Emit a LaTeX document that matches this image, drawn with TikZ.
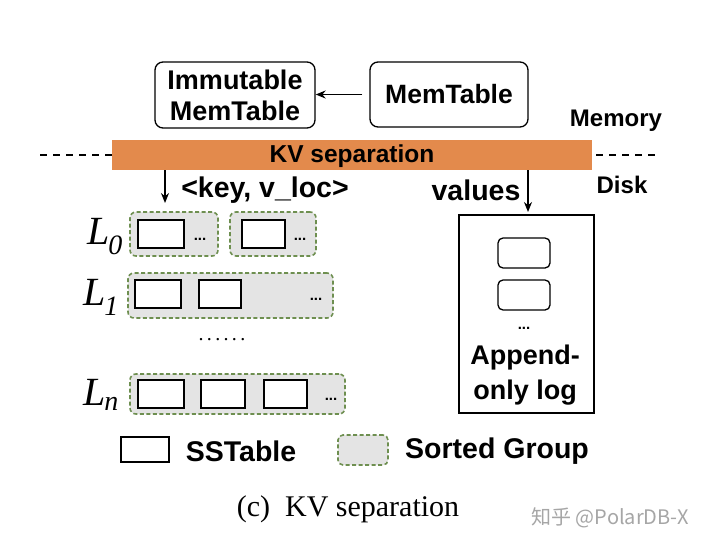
\documentclass[tikz,border=0pt]{standalone}
\usepackage{fontspec}
\usetikzlibrary{arrows.meta}
\setsansfont{Liberation Sans}
\setmainfont{Liberation Serif}
\newfontfamily\cjk{Noto Sans CJK SC}
\definecolor{kvorange}{HTML}{E38A4C}
\definecolor{grpgreen}{HTML}{6E8F50}
\definecolor{grpfill}{HTML}{E4E4E4}
\begin{document}
\begin{tikzpicture}[x=1pt,y=-1pt,
  lbl/.style={font=\sffamily\bfseries\fontsize{28.5}{31}\selectfont,inner sep=0pt},
  mem/.style={draw,rounded corners=8pt,line width=1.3pt,align=center,lbl},
  sst/.style={draw,line width=1.2pt,fill=white,inner sep=0pt},
  grp/.style={draw=grpgreen,dashed,dash pattern=on 4pt off 2.5pt,line width=1.6pt,fill=grpfill,rounded corners=6pt,inner sep=0pt},
  lvl/.style={font=\fontsize{40}{42}\selectfont\itshape,inner sep=0pt},
  dots/.style={font=\sffamily\bfseries\fontsize{15}{17}\selectfont,inner sep=0pt},
  arr/.style={-{Stealth[length=10pt,width=8pt]},line width=1.5pt}]
\useasboundingbox (0,0) rectangle (708,546);
\fill[white] (0,0) rectangle (708,546);
% memory
\node[mem,minimum width=160pt,minimum height=66pt,font=\sffamily\bfseries\fontsize{27}{31}\selectfont] (imm) at (235,95) {Immutable\\MemTable};
\node[mem,minimum width=158pt,minimum height=65pt,font=\sffamily\bfseries\fontsize{26.5}{29}\selectfont] (mt) at (449,94.5) {MemTable};
\draw[arr] (mt.west) ++(-7,0) coordinate (mts) -- (imm.east |- mts);
\node[lbl,font=\sffamily\bfseries\fontsize{24}{26}\selectfont] (memlbl) at (616,121) {Memory};
\node[lbl,font=\sffamily\bfseries\fontsize{24}{26}\selectfont] (disk) at (622,185) {Disk};
% KV bar
\node[fill=kvorange,minimum width=480pt,minimum height=30pt,inner sep=0pt] (kv) at (352,155) {};
\node[lbl,font=\sffamily\bfseries\fontsize{24.5}{26}\selectfont] (kvt) at (352,156) {KV separation};
\coordinate (dl) at (40,155); \coordinate (dr) at (655,155);
\draw[dashed,dash pattern=on 7pt off 6pt,line width=1.3pt] (dl) -- (kv.west);
\draw[dashed,dash pattern=on 7pt off 6pt,line width=1.3pt] (kv.east) ++(4,0) -- (dr);
% arrows down
\coordinate (ka) at (165,170); \coordinate (kb) at (165,203);
\draw[arr] (ka) -- (kb);
\node[lbl] (keyl) at (265,190) {<key, v\_loc>};
\node[lbl] (vall) at (476,190) {values};
% log
\node[draw,line width=1.5pt,minimum width=135pt,minimum height=198pt,inner sep=0pt] (log) at (526.5,314) {};
\draw[arr] (528,170) -- (528,212);
\node[draw,rounded corners=5pt,line width=1.3pt,minimum width=52pt,minimum height=30pt] (b1) at (524,253) {};
\node[draw,rounded corners=5pt,line width=1.3pt,minimum width=52pt,minimum height=30pt] (b2) at (524,295) {};
\node[dots] (ld) at (524,328) {...};
\node[lbl,align=center,font=\sffamily\bfseries\fontsize{27}{35}\selectfont] (logt) at (525,375) {Append-\\only log};
% levels
\node[lvl] (l0) at (105,237) {L\kern-1pt\textsubscript{0}};
\node[lvl] (l1) at (101,297) {L\kern-1pt\textsubscript{1}};
\node[lvl] (ln) at (101,395) {L\kern-1pt\textsubscript{n}};
\node[font=\fontsize{20}{22}\selectfont] (vd) at (222,340) {.\,.\,.\,.\,.\,.};
% L0
\node[grp,minimum width=88pt,minimum height=44pt] (g01) at (174,234) {};
\node[sst,minimum width=46pt,minimum height=28pt] at (161,234) {};
\node[dots] at (200,239) {...};
\node[grp,minimum width=86pt,minimum height=44pt] (g02) at (273,234) {};
\node[sst,minimum width=43pt,minimum height=28pt] at (263.5,234) {};
\node[dots] at (300,239) {...};
% L1
\node[grp,minimum width=205pt,minimum height=45pt] (g1) at (230.5,295.5) {};
\node[sst,minimum width=46pt,minimum height=28pt] at (158,294) {};
\node[sst,minimum width=42pt,minimum height=28pt] at (220,294) {};
\node[dots] at (316,299) {...};
% Ln
\node[grp,minimum width=215pt,minimum height=40pt] (gn) at (237.5,394) {};
\node[sst,minimum width=46pt,minimum height=28pt] at (161,394) {};
\node[sst,minimum width=44pt,minimum height=28pt] at (223,394) {};
\node[sst,minimum width=43pt,minimum height=28pt] at (285.5,394) {};
\node[dots] at (331,399) {...};
% legend
\node[sst,minimum width=48pt,minimum height=25pt] (legs) at (145,449.5) {};
\node[lbl] (legst) at (241,451) {SSTable};
\node[grp,minimum width=50pt,minimum height=30pt,rounded corners=5pt] (legg) at (363,450) {};
\node[lbl] (leggt) at (497,451) {Sorted Group};
% caption
\node[font=\fontsize{30}{32}\selectfont,inner sep=0pt] (cap) at (348,509) {(c)\ \ KV separation};
\node[font=\cjk\fontsize{20}{22}\selectfont,text=gray!70,inner sep=0pt] (wm) at (610,518) {知乎 @PolarDB-X};
\end{tikzpicture}
\end{document}
